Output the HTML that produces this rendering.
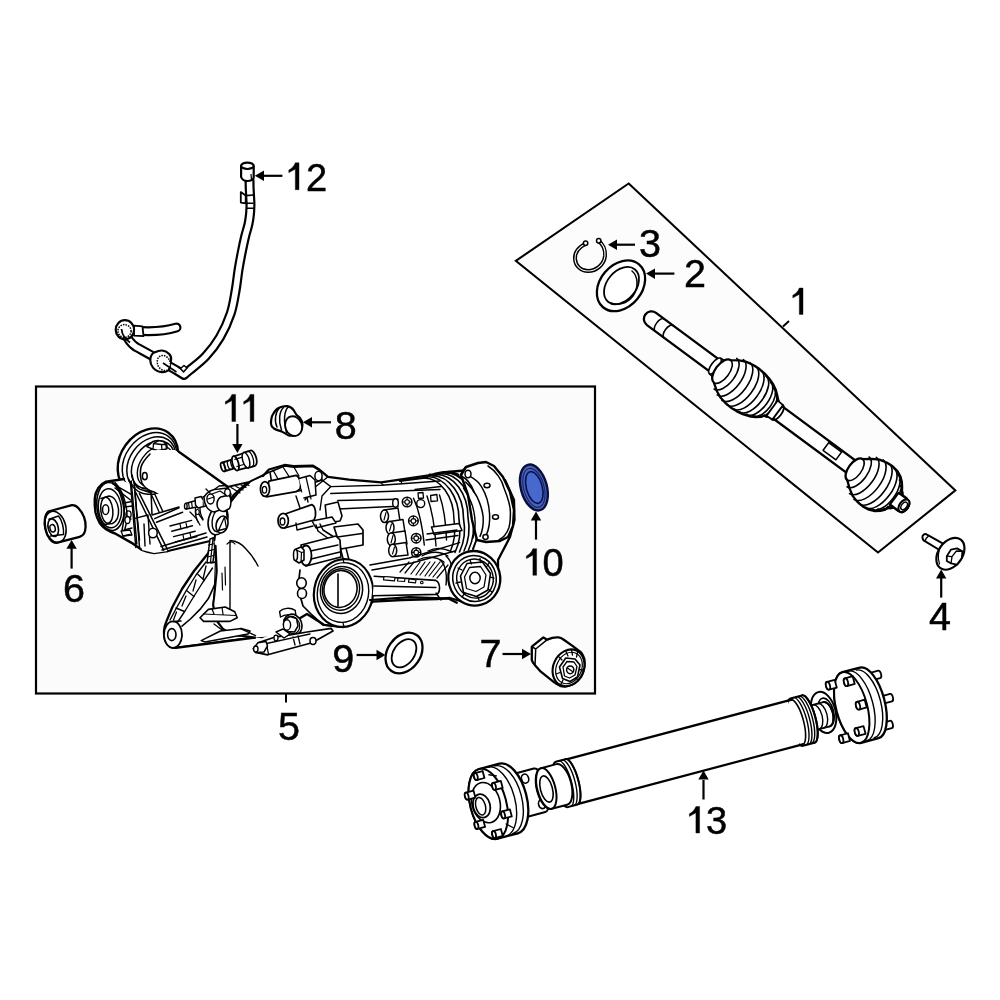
<!DOCTYPE html>
<html><head><meta charset="utf-8"><style>
html,body{margin:0;padding:0;background:#fff;width:1000px;height:1000px;overflow:hidden}
svg{display:block;will-change:transform}
text{font-family:"Liberation Sans",sans-serif}
</style></head><body>
<svg width="1000" height="1000" viewBox="0 0 1000 1000">
<rect x="36" y="386.5" width="559" height="307" fill="#fbfbfb" stroke="#000" stroke-width="2.2"/>
<path d="M628.7 183.5L955.4 490.4L878 552.5L515.8 260.9Z" fill="#fcfcfc" stroke="#000" stroke-width="2"/>
<path d="M286 694L286 702.5M783 326.5L789 321" stroke="#000" stroke-width="2"/>

<g fill="none" stroke-linecap="round" stroke-linejoin="round">
<path id="hp" d="M249.5 180C249.5 192 250.5 199 250.5 205C250.4 206.5 250.3 210.8 250 214C249.7 217.2 249.3 220.2 248.5 224C247.7 227.8 246.1 232.3 245 237C243.9 241.7 242.8 246.9 241.7 252.4C240.6 257.9 239.5 263.7 238.5 270C237.5 276.3 237.0 282.8 235.7 290C234.4 297.2 233.4 305.3 230.8 313.2C228.2 321.1 224.2 330.0 220 337.2C215.8 344.4 210.8 350.8 205.6 356.4C200.4 362.0 192.4 367.7 188.8 370.8C185.2 373.9 184.8 374.3 184 375L176 370L163 362.5C155 357 145 352 136 347C130 343 127 338 125 332" stroke="#000" stroke-width="10"/>
<path d="M249.5 180C249.5 192 250.5 199 250.5 205C250.4 206.5 250.3 210.8 250 214C249.7 217.2 249.3 220.2 248.5 224C247.7 227.8 246.1 232.3 245 237C243.9 241.7 242.8 246.9 241.7 252.4C240.6 257.9 239.5 263.7 238.5 270C237.5 276.3 237.0 282.8 235.7 290C234.4 297.2 233.4 305.3 230.8 313.2C228.2 321.1 224.2 330.0 220 337.2C215.8 344.4 210.8 350.8 205.6 356.4C200.4 362.0 192.4 367.7 188.8 370.8C185.2 373.9 184.8 374.3 184 375L176 370L163 362.5C155 357 145 352 136 347C130 343 127 338 125 332" stroke="#fff" stroke-width="5.6"/>
<path d="M134 330.5C150 332 165 331 176.5 327.5" stroke="#000" stroke-width="10"/>
<path d="M134 330.5C150 332 165 331 176.5 327.5" stroke="#fff" stroke-width="5.6"/>
</g>
<g stroke="#000" stroke-width="1.8" fill="#fff" stroke-linejoin="round">
<path d="M134 325.6L142.5 326.3L143.5 336.2L134 335.6Z"/>
<ellipse cx="124.9" cy="329.8" rx="9.2" ry="9.6" stroke-width="2.2"/>
<ellipse cx="124.5" cy="331" rx="6.6" ry="6.4" stroke-dasharray="1.5 1.1" stroke-width="1.5"/>
<path d="M121.5 329C122 335 125 339 130 342.5" fill="none" stroke-width="1.8"/>
<path d="M150.3 360.4C150.5 356 152 353 155 352.3C158 350.8 160 350.4 162 350.5C165 350.7 167.5 352 169.2 354.1C171 356 171.5 358 171 360.4L169.2 369.4C168 371 165 372.1 162 372.1C158 372 155 370 153 367.6C151 365 150.2 363 150.3 360.4Z" stroke-width="2.2"/>
<ellipse cx="163.8" cy="363" rx="6.3" ry="7.8" transform="rotate(-25 163.8 363)" stroke-dasharray="1.5 1.1" stroke-width="1.5"/>
<path d="M163 363L176.5 372" fill="none" stroke-width="1.6"/>
<path d="M180.5 368.5L184 365.5L187 368L183.5 372Z" stroke-width="1.5"/>
<path d="M241.1 165.8L241.1 177C242 179.5 245 181 247.4 181C250.5 181 253 179.8 253.7 177.5L253.7 165.8" stroke-width="2.2"/>
<ellipse cx="247.4" cy="165.8" rx="6.3" ry="3.2" stroke-width="2.2"/>
<path d="M251 174L251.5 180" fill="none" stroke-width="1.2"/>
<path d="M240.8 192.1L245.7 195.6L245.7 203.3L240.8 202.6Z" stroke-width="1.8"/>
<path d="M245.8 195.6L253.5 195M245.8 203.3L253.5 203.3M246.3 208.2L253.7 208.2" fill="none" stroke-width="1.6"/>
</g>

<g transform="translate(651.5 319) rotate(36.5)" stroke="#000" fill="#fff" stroke-linejoin="round" stroke-linecap="round">
<path d="M0 -7.6L312 -7.6L312 7.6L0 7.6A7.6 7.6 0 0 1 0 -7.6Z" stroke-width="2.3"/>
<path d="M10 -7.6A3.5 7.6 0 0 0 10 7.6M21 -7.6A3.5 7.6 0 0 0 21 7.6" fill="none" stroke-width="1.6"/>
<path d="M79 -9.5L88 -10.5L88 10.5L79 9.5Z" stroke-width="1.8"/>
<ellipse cx="79" cy="0" rx="3.8" ry="9.5" stroke-width="1.7"/>
<path d="M88 14 A7.0 14 0 0 1 88 -14 L95.3 -19 L101.8 -22 L109.1 -23.5 L116.2 -24 L123.1 -23.5 L129.9 -22.2 L136.5 -20 L142.0 -17 L146.4 -13.5 L149.8 -10.5 A5.2 10.5 0 0 1 148 10.5 L146.4 13.5 L142.0 17 L136.5 20 L129.9 22.2 L123.1 23.5 L116.2 24 L109.1 23.5 L101.8 22 L95.3 19Z" stroke-width="2.3"/>
<path d="M88 -14A7.0 14 0 0 1 88 14" fill="none" stroke-width="1.6"/>
<path d="M92 -19A9.5 19 0 0 1 92 19" fill="none" stroke-width="1.6"/>
<path d="M98 -22A11.0 22 0 0 1 98 22" fill="none" stroke-width="1.6"/>
<path d="M105 -23.5A11.8 23.5 0 0 1 105 23.5" fill="none" stroke-width="1.6"/>
<path d="M112 -24A12.0 24 0 0 1 112 24" fill="none" stroke-width="1.6"/>
<path d="M119 -23.5A11.8 23.5 0 0 1 119 23.5" fill="none" stroke-width="1.6"/>
<path d="M126 -22.2A11.1 22.2 0 0 1 126 22.2" fill="none" stroke-width="1.6"/>
<path d="M133 -20A10.0 20 0 0 1 133 20" fill="none" stroke-width="1.6"/>
<path d="M139 -17A8.5 17 0 0 1 139 17" fill="none" stroke-width="1.6"/>
<path d="M144 -13.5A6.8 13.5 0 0 1 144 13.5" fill="none" stroke-width="1.6"/>
<path d="M148 -10.5A5.2 10.5 0 0 1 148 10.5" fill="none" stroke-width="1.6"/>
<path d="M150 -9.5L157 -9L157 9L150 9.5Z" stroke-width="1.8"/>
<path d="M157 -9A4 9 0 0 1 157 9" fill="none" stroke-width="1.8"/>
<path d="M216 -6L232 -6L232 3.5L216 3.5Z" stroke-width="1.5" fill="none"/>
<path d="M253 13 A6.5 13 0 0 1 253 -13 L260.2 -18.5 L266.9 -22.5 L274.3 -24.5 L281.4 -25 L288.2 -24 L293.8 -21.5 L298.1 -18 L301.4 -14 L303.8 -10.5 A5.2 10.5 0 0 1 302 10.5 L301.4 14 L298.1 18 L293.8 21.5 L288.2 24 L281.4 25 L274.3 24.5 L266.9 22.5 L260.2 18.5Z" stroke-width="2.3"/>
<path d="M253 -13A6.5 13 0 0 1 253 13" fill="none" stroke-width="1.6"/>
<path d="M257 -18.5A9.2 18.5 0 0 1 257 18.5" fill="none" stroke-width="1.6"/>
<path d="M263 -22.5A11.2 22.5 0 0 1 263 22.5" fill="none" stroke-width="1.6"/>
<path d="M270 -24.5A12.2 24.5 0 0 1 270 24.5" fill="none" stroke-width="1.6"/>
<path d="M277 -25A12.5 25 0 0 1 277 25" fill="none" stroke-width="1.6"/>
<path d="M284 -24A12.0 24 0 0 1 284 24" fill="none" stroke-width="1.6"/>
<path d="M290 -21.5A10.8 21.5 0 0 1 290 21.5" fill="none" stroke-width="1.6"/>
<path d="M295 -18A9.0 18 0 0 1 295 18" fill="none" stroke-width="1.6"/>
<path d="M299 -14A7.0 14 0 0 1 299 14" fill="none" stroke-width="1.6"/>
<path d="M302 -10.5A5.2 10.5 0 0 1 302 10.5" fill="none" stroke-width="1.6"/>
<path d="M302 -7.2L314 -7.2A4.4 7.2 0 0 1 314 7.2L302 7.2Z" stroke-width="2.1"/>
<ellipse cx="314" cy="0" rx="4.4" ry="7.2" stroke-width="2.1"/>
<ellipse cx="314.3" cy="0" rx="2.6" ry="4.3" stroke-width="1.5"/>
</g>
<g stroke="#000" fill="#fff" stroke-linejoin="round" stroke-linecap="round">
<!-- ===== left flange ===== -->
<ellipse cx="147.9" cy="461.1" rx="27.4" ry="35" transform="rotate(35.8 147.9 461.1)" stroke-width="2.4"/>
<ellipse cx="149.6" cy="462.3" rx="24.6" ry="32" transform="rotate(35.8 149.6 462.3)" stroke-width="1.5" fill="none"/>
<ellipse cx="151.3" cy="463.5" rx="21.8" ry="29" transform="rotate(35.8 151.3 463.5)" stroke-width="1.5" fill="none"/>
<ellipse cx="153" cy="464.7" rx="19" ry="26" transform="rotate(35.8 153 464.7)" stroke-width="1.5" fill="none"/>
<ellipse cx="155.5" cy="466.5" rx="15.5" ry="22.5" transform="rotate(35.8 155.5 466.5)" stroke-width="1.4" fill="none"/>
<!-- hex nut + slot -->
<path d="M146.8 446.6L151.5 443L152.8 441.6L158 440.4L163.5 441.5L166 444.5L166.5 449L158 450.5L153 449.2Z" stroke-width="1.5"/>
<path d="M153 449.2L153.5 443.5L158 441.2M153.5 443.5L161.5 444.5L166 444.5M161.5 444.5L162 450" fill="none" stroke-width="1.3"/>
<path d="M166.6 443L167.3 448" fill="none" stroke-width="1.4"/>
<!-- cylinder -->
<path d="M175 450L228 487L236 493L222 510L205 520L184 510L154 492C149 490 144.5 487 142 483C140 479 139.8 475 140 471C140.5 465 143 459 147 455C150 452 153 450.5 157 450Z" stroke-width="0"/>
<path d="M178.5 451.5L228 487" fill="none" stroke-width="2.3"/>
<path d="M150 454C146 458 142.5 462 141 467C140 472 140.2 478 142 483C144 487 147 490 154 492L184 510" fill="none" stroke-width="1.6"/>
<path d="M132 475C133 480 134.5 484 136 485.5C138 488 140 489.5 141 490C145 492.5 148 494 152 495" fill="none" stroke-width="1.5"/>
<ellipse cx="144.8" cy="476.2" rx="2.4" ry="3.6" stroke-width="1.5"/>
<!-- ===== left mount bushing ===== -->
<path d="M120 479.6L106 481.7C102 483.5 100 485.5 98.3 488C96 491.5 95 495 94.8 498.5C94.5 503 94.8 508 95.5 512.5C96.5 516.5 98 520 99.7 523C101.5 525.5 103.5 527.5 106 529.3C109 531.3 112 532.5 115.1 533.5L131.2 542.6L142 550C145.5 551.5 149 552.5 154 553L168 551L200 540L200 520L170 500L140 490L130 484Z" stroke-width="0"/>
<path d="M124 479L106 481.7C102 483.5 100 485.5 98.3 488C96 491.5 95 495 94.8 498.5C94.5 503 94.8 508 95.5 512.5C96.5 516.5 98 520 99.7 523C101.5 525.5 103.5 527.5 106 529.3C109 531.3 112 532.5 115.1 533.5L131.2 542.6L142 550C145.5 551.5 149 552.5 154 553L168 551" fill="none" stroke-width="2.4"/>
<ellipse cx="110.5" cy="506.5" rx="13.6" ry="24.1" transform="rotate(-6 110.5 506.5)" stroke-width="1.6" fill="none"/>
<ellipse cx="109.9" cy="508.3" rx="11.5" ry="19.6" transform="rotate(-6 109.9 508.3)" stroke-width="1.5" fill="none"/>
<path d="M101 498.5L109 496C114 496.5 117.5 502 118.5 509C119 516 116.5 521.5 112.5 523.5L104 524.5" fill="none" stroke-width="1.5"/>
<ellipse cx="106.8" cy="510.2" rx="6" ry="13" transform="rotate(-6 106.8 510.2)" stroke-width="1.5" fill="none"/>
<ellipse cx="105.65" cy="509.7" rx="3.1" ry="4.9" stroke-width="1.5" fill="none"/>
<path d="M112.3 481.7C116 486 119 490 120.5 495C122.5 501 124 507 124.2 512.5C124.2 518 123.5 524 122.1 530" fill="none" stroke-width="1.5"/>
<path d="M115 482.5C119 487 122 492 123.6 497C125.5 503 127 509 127 515C127 521 126 526 124.5 531" fill="none" stroke-width="1.5"/>
<path d="M113 483.8L131.2 494.3M115 488L130.5 500" fill="none" stroke-width="1.5"/>
<path d="M131.2 481L136.8 544M134 482L139.5 540" fill="none" stroke-width="1.5"/>
<path d="M124 503L132 501.5M124.5 507L132.5 506M125 520L131 519" fill="none" stroke-width="1.3"/>
<ellipse cx="128.5" cy="514.5" rx="2.6" ry="3.6" stroke-width="1.3" fill="none"/>
<path d="M121 531L130 530L132 535L123 536Z" stroke-width="1.3"/>
</g>

<g stroke="#000" fill="#fff" stroke-linejoin="round" stroke-linecap="round">
<!-- ===== bracket below cylinder ===== -->
<path d="M137 505L150 494L160 494L180 505L212 522L212 540L168 551L154 553L142 550Z" stroke-width="0"/>
<path d="M168 551L210 541" fill="none" stroke-width="2.3"/>
<path d="M128.6 479C130 483 131.5 486 134 488C137 491 140 492.8 143 493.4C147 494.2 151 494.4 154.7 494.3" fill="none" stroke-width="1.5"/>
<path d="M130.4 481.7L135.8 547.4M134.5 487L139.5 547" fill="none" stroke-width="1.5"/>
<path d="M135.8 492.5L163.7 550.1M139.4 493.4L167.3 549.2" fill="none" stroke-width="1.5"/>
<path d="M151.1 493.5L152 515L179 507" fill="none" stroke-width="1.5"/>
<path d="M151.1 494L159.2 512.3M154.7 494L162.8 511.4" fill="none" stroke-width="1.4"/>
<path d="M154.7 518.6L179 507.8M156.5 522.2L182.6 512.3" fill="none" stroke-width="1.5"/>
<path d="M170 526L191.6 520.4M171.8 531.2L192.5 525.8M173.6 536.6L195.2 531.2M175.4 542L197 536.6" fill="none" stroke-width="1.4"/>
<path d="M180 524L181 529M186 523L187 528M183 535L184 540M190 533L191 538" fill="none" stroke-width="1.2"/>
<path d="M161 546.5L206 533M162 550L207 537" fill="none" stroke-width="1.5"/>
<path d="M134 518.6L148 515L150 544M144 524L145 546" fill="none" stroke-width="1.4"/>
<ellipse cx="152.9" cy="533" rx="4.3" ry="4.8" stroke-width="1.5"/>
<path d="M124 530L132 528M123 536L130 534.5" fill="none" stroke-width="1.3"/>
<ellipse cx="127.5" cy="520" rx="2.5" ry="3.5" stroke-width="1.3"/>
<path d="M190 512L196 518L200 525M198 513L203 520" fill="none" stroke-width="1.3"/>
<!-- sensor fitting -->
<path d="M185.5 503.5L196 500.5L197 507L186.5 509Z" stroke-width="1.5"/>
<ellipse cx="185.8" cy="506.2" rx="1.3" ry="2.8" stroke-width="1.4"/>
<path d="M188.5 502.5L189.3 508.5M191.5 501.5L192.3 507.5" fill="none" stroke-width="1.2"/>
<path d="M195 498L201 496.5L203.5 500L203.5 506.5L198 508L195.5 505Z" stroke-width="1.5"/>
<path d="M203 497L207 495.5C209 496 209.5 501 208 505L204 506.5" stroke-width="1.5"/>
<path d="M195.5 508.5C195 513 196 518 198 522M200 508C200 513 201 516 203 519" fill="none" stroke-width="1.3"/>
<ellipse cx="197.5" cy="512" rx="1.8" ry="2.5" stroke-width="1.2"/>
<!-- ===== lower arm ===== -->
<path d="M208.4 553L194 571L182 589L172.4 607L166.4 621.4C164.8 625 164 628 164 631C164 634.5 164.2 637.5 165.2 640.6C166.5 643.5 168 645.5 170 646.6C172 647.5 174 647.8 176 647.8L255 637.5L240 560L218 545Z" stroke-width="2.3"/>
<path d="M218 571L214.4 585.4L208.4 598.6L200 609.4L190.4 619L182 626.2" fill="none" stroke-width="1.6"/>
<path d="M206 562L196 575L186 591L177 607L170 620M212.5 568L203 582L193.5 597L185 611L177 623" fill="none" stroke-width="1.4"/>
<path d="M186.5 590.5L194 596.5M176 608L184.5 611.5M198 574.5L204 580" fill="none" stroke-width="1.4"/>
<path d="M206 566C205 571 204 575 203 579M196 580L193 591M186 596L182 606M176.5 612L173.5 620" fill="none" stroke-width="1.3"/>
<ellipse cx="173" cy="634.6" rx="9" ry="13.2" stroke-width="1.8"/>
<ellipse cx="171.8" cy="634.6" rx="4.2" ry="6" stroke-width="1.6"/>
<path d="M173 621.4L181 621M173.5 647.8L248 638" fill="none" stroke-width="1.5"/>
<!-- checker strip -->
<path d="M210 539L216 537L213 562L207 563Z" stroke-width="1.5"/>
<path d="M208.5 545L214.8 543.5M208 551L214 549.5M207.6 557L213.5 555.5M213 538L210.5 562" fill="none" stroke-width="1.2"/>
<path d="M211 563L216 562L218 571" fill="none" stroke-width="1.4"/>
<path d="M216 573L219 568L222 571L221 588" fill="none" stroke-width="1.3"/>
</g>

<g stroke="#000" fill="#fff" stroke-linejoin="round" stroke-linecap="round">
<!-- ===== housing body right (behind) ===== -->
<path d="M268.9 469.5L284.5 465L293.6 466.2L313 465.6L319.6 469.8L328 476.8L349 479.6L381.2 482.4L428.8 475.4L434.4 474L442 472.5L470 470L505 480L514 500L514.5 520L510 537L498 560L498 590L474 605L450 598L437 599L402 600L373 601.6L343 627L324 624.8L307 614L280 630L262 637L235 635L222.8 628.6L215.6 619L213.5 605L215 590L216 560L214.5 540L218 525L224 509.6L233.6 495.2L245.6 484.4L262 477Z" stroke-width="2.3"/>
<!-- second top contour + tube lines -->
<path d="M319.6 478.2L330.8 486.6L381.2 485.2L440 481" fill="none" stroke-width="1.4"/>
<path d="M330.8 493.6L440 489.4M337.8 500.6L398 499.2M337.8 509L398 506.2" fill="none" stroke-width="1.5"/>
<path d="M328 476.8L314 488L305 500M330.8 486.6L322 496L320 510" fill="none" stroke-width="1.4"/>
<path d="M381 482.5L383 485M400 480L402 483.5" fill="none" stroke-width="1.2"/>
<ellipse cx="395.5" cy="503" rx="2.8" ry="4.2" stroke-width="1.4"/>
<!-- cover face (white) -->
<path d="M262 477L249.4 482.5L239 491.6L228.6 504.6L220.8 517.6L215.6 530L214.5 540L216 560L215 590L213.5 605L215.6 619L222.8 628.6L235 635L255 637.5L275 636L290 628L300 612L305 590L305 560L300 530L292 505L282 488L272 478Z" stroke-width="0" fill="#fff"/>
<path d="M249.4 482.5L239 491.6L228.6 504.6L220.8 517.6L215.6 530L214.5 540" fill="none" stroke-width="2"/>
<path d="M215.6 545.8L216.8 571L214.4 595L213.2 604.6L215.6 619L222.8 628.6L232.4 634.5L255 637.5" fill="none" stroke-width="2"/>
<path d="M227.3 487L249.4 481.9L261.1 476L268.9 472.1" fill="none" stroke-width="1.8"/>
<path d="M231 487.5L240 493M236 486.5L243 490M241 485L246 487.5M246 484L249 485.5" fill="none" stroke-width="1.2"/>
<path d="M230 540.5L230 612M230 540.5C236 541 242 544 246 549C251 554 255 560 258 566" fill="none" stroke-width="1.4"/>
<path d="M227 544C230 541 233 541.5 235 544" fill="none" stroke-width="1.2"/>
<path d="M222 573L222.5 590M225 567L225.5 585" fill="none" stroke-width="1.2"/>
<!-- fins -->
<path d="M200 617.8L208.4 609.4L225.2 607L234.8 611.8L237.2 617.8L230 621.4L203.6 621.4Z" stroke-width="1.6"/>
<path d="M203.6 614L236 615.5M212 609L214 614M222 607.5L223 614" fill="none" stroke-width="1.2"/>
<path d="M201.2 640.6L220.4 631L242 628.6L250 631L248 634L205 642Z" stroke-width="1.5"/>
<path d="M240 628.4L255.6 635.6M214 624L222 630" fill="none" stroke-width="1.3"/>
<!-- gear ring -->
<ellipse cx="218" cy="520" rx="9.5" ry="15" transform="rotate(15 218 520)" stroke-width="1.6"/>
<ellipse cx="219.5" cy="519.5" rx="7" ry="12.5" transform="rotate(15 219.5 519.5)" stroke-width="1.4"/>
<ellipse cx="222" cy="524.5" rx="5.8" ry="8.6" transform="rotate(15 222 524.5)" stroke-width="1.6"/>
<path d="M224.5 517L218.5 530.5L226.5 528.5Z" fill="none" stroke-width="1.3"/>
<path d="M204 497C207 492 213 489 219 489L228 488L231 494L229 507L214 512C208 511 204 505 204 497Z" stroke-width="1.5"/>
<ellipse cx="210.5" cy="499" rx="3.6" ry="5" stroke-width="1.4"/>
<ellipse cx="223" cy="504" rx="6" ry="7.5" stroke-width="1.6"/>
<path d="M223 496.5L229 495C231.5 498 231.5 505 229.5 508.5L224 511.5" stroke-width="1.5"/>
<ellipse cx="227.5" cy="492.5" rx="2.8" ry="3.6" stroke-width="1.3"/>
<path d="M215 489L219 486L226 485.5M210 493L206 489" fill="none" stroke-width="1.3"/>
<path d="M212 494L220 491L226 495M208 499L214 497" fill="none" stroke-width="1.3"/>
<!-- ===== bosses ===== -->
<!-- boss plate top -->
<path d="M270 472L284.5 466L293.6 467.2L313 466.5L319.6 470.5L322 480L316 482L300 486L284 487L272 485Z" stroke-width="1.6"/>
<path d="M273 470L278 479M283 467L290 478M294 467.2L299 476M300 486L302 492" fill="none" stroke-width="1.3"/>
<ellipse cx="318.5" cy="476" rx="3.6" ry="4.8" stroke-width="1.5"/>
<!-- boss 1 -->
<path d="M268.9 481.2L296.2 475.35C300 477 301.5 484 300 489L296.2 491.6L266.3 496.8Z" stroke-width="1.7"/>
<ellipse cx="265" cy="489" rx="4.6" ry="7.4" stroke-width="1.7"/>
<ellipse cx="264.5" cy="489.8" rx="2.2" ry="3.4" stroke-width="1.3"/>
<path d="M296.2 491.6L311 488.5L304 485M303 478L308 502M296 496L301 511" fill="none" stroke-width="1.4"/>
<path d="M299 478.5L310 475.5L315 480L316 495L304 498" stroke-width="1.5"/>
<path d="M306 477L311 499" fill="none" stroke-width="1.2"/>
<!-- boss 2 -->
<path d="M285.8 513.7L311.8 504.6C315.5 506 317 515 314 520L284.5 528Z" stroke-width="1.7"/>
<ellipse cx="283.2" cy="520.8" rx="5.2" ry="7.4" stroke-width="1.7"/>
<ellipse cx="282.5" cy="521.5" rx="2.4" ry="3.5" stroke-width="1.3"/>
<path d="M296 523L297 530L313 526" fill="none" stroke-width="1.4"/>
<!-- bracket block + pipe -->
<path d="M325.2 505L338 502L342 516L340 521L327 523Z" stroke-width="1.6"/>
<path d="M312 521L332 517L336 523L316 528Z" stroke-width="1.5"/>
<path d="M316 525L318 531L340 547L344 562M320 524L323 530L345 544L349 560" fill="none" stroke-width="1.5"/>
<path d="M334 527L358 524L363 530L363 545L341 549Z" stroke-width="1.7"/>
<path d="M337.5 537L362 533.5" fill="none" stroke-width="1.3"/>
<!-- boss 3 (hex bolt) -->
<path d="M301 545L336 536L340 540L341 557L306 566Z" stroke-width="1.7"/>
<path d="M306 552L338 545M307 560L340 552" fill="none" stroke-width="1.3"/>
<ellipse cx="306" cy="555.5" rx="5.5" ry="10" stroke-width="1.8"/>
<path d="M295 549.5L301 547L304 550L304 560L299 563L294.5 560Z" stroke-width="1.6"/>
<ellipse cx="295.5" cy="555" rx="2" ry="5.5" stroke-width="1.5"/>
<path d="M296 549.8L301.5 552.5L303.5 552M301.5 552.5L301 562.5" fill="none" stroke-width="1.2"/>
<!-- ===== seal bore ===== -->
<path d="M300 570C298 580 299 595 303 606L312 615L323 625L342 627" stroke-width="1.7" fill="none"/>
<ellipse cx="301.5" cy="583" rx="4.8" ry="5.2" stroke-width="1.6"/>
<ellipse cx="302" cy="593.5" rx="4.5" ry="5" stroke-width="1.6"/>
<ellipse cx="343.5" cy="593" rx="29.5" ry="34" transform="rotate(10 343.5 593)" stroke-width="2.2"/>
<ellipse cx="343" cy="592.5" rx="25.6" ry="30" transform="rotate(10 343 592.5)" stroke-width="1.4"/>
<ellipse cx="341.5" cy="590" rx="21" ry="23.5" transform="rotate(12 341.5 590)" stroke-width="1.5"/>
<ellipse cx="341" cy="589.5" rx="18.5" ry="20.8" transform="rotate(12 341 589.5)" stroke-width="1.4"/>
<ellipse cx="340.5" cy="589" rx="16.5" ry="18.5" transform="rotate(12 340.5 589)" stroke-width="1.6"/>
<path d="M338 574L338 606" fill="none" stroke-width="1.6"/>
<path d="M343 559L344 563M343 623L344 627" fill="none" stroke-width="1.2"/>
<!-- ===== bottom bar + pinion bolt ===== -->
<path d="M279.6 611.6C283 608 290 607 295.2 610.4L296 616C292 614 285 614 280.5 617Z" stroke-width="1.4"/>
<ellipse cx="292.8" cy="624.8" rx="9" ry="10.8" transform="rotate(-20 292.8 624.8)" stroke-width="1.6"/>
<ellipse cx="292.5" cy="625" rx="7" ry="8.8" transform="rotate(-20 292.5 625)" stroke-width="1.3"/>
<path d="M284 620L290 616.5L296.5 618.5L298 626L294.5 632L288 631.5L285 627Z" stroke-width="1.5"/>
<ellipse cx="287" cy="625" rx="3.6" ry="5.2" stroke-width="1.4"/>
<path d="M258 642.8L276 636.8L285.6 635.6L307.2 632L331.2 628.4L333 631L312 642.8L267.6 654.8L255.6 652.4Z" stroke-width="1.7"/>
<path d="M266.4 642.8L268.5 654.5M262 644.5L310 634M293 637L295 645M298 636L300 644" fill="none" stroke-width="1.3"/>
<path d="M253.2 648.8L258 642.8L266 641.5L267.5 646L264 652L255.6 652.4Z" stroke-width="1.5"/>
<ellipse cx="255.8" cy="649" rx="2.2" ry="3" stroke-width="1.4"/>
<path d="M276 632L283 629L290 634L284 638Z" stroke-width="1.4"/>
<ellipse cx="276" cy="638" rx="2" ry="2.8" stroke-width="1.3"/>
<ellipse cx="313" cy="641" rx="3" ry="3.4" stroke-width="1.5"/>
</g>

<g stroke="#000" fill="#fff" stroke-linejoin="round" stroke-linecap="round">
<!-- ===== right housing details ===== -->
<path d="M400 481.1L427 477.5L429.7 474.4L433.3 475.7L443.2 472.6L450.4 471.7L458.5 474.8" fill="none" stroke-width="2"/>
<!-- fins (C-shaped) -->
<g stroke-width="1.5">
<path d="M384 510L398 508L400 521L386 522.5Z"/><ellipse cx="384.5" cy="516.3" rx="4" ry="6.3"/>
<path d="M389.5 521.5L403 519.5L405 532.5L391 534Z"/><ellipse cx="390" cy="527.7" rx="4" ry="6.3"/>
<path d="M391 533L405 531L407 544L393 545.5Z"/><ellipse cx="391.3" cy="539.2" rx="4" ry="6.3"/>
<path d="M392.5 544.5L406 542.5L408 555L394 556.5Z"/><ellipse cx="392.7" cy="550.5" rx="4" ry="6.3"/>
</g>
<path d="M386 512.5L384 520M391.5 524L389.5 531M393 535.5L391 543M394.5 547L392.5 554" fill="none" stroke-width="1.1"/>
<!-- bolt heads -->
<g stroke-width="1.5">
<circle cx="407.1" cy="502" r="4.8"/><circle cx="407.1" cy="502" r="2.3" stroke-width="1.1"/>
<circle cx="413.4" cy="520.9" r="4.8"/><circle cx="413.4" cy="520.9" r="2.3" stroke-width="1.1"/>
<circle cx="416.2" cy="538.2" r="4.8"/><circle cx="416.2" cy="538.2" r="2.3" stroke-width="1.1"/>
<circle cx="416.2" cy="552.4" r="4.6"/><circle cx="416.2" cy="552.4" r="2.3" stroke-width="1.1"/>
</g>
<path d="M402.5 502L404.8 502M409.4 502L411.7 502M407.1 497.4L407.1 499.7M407.1 504.3L407.1 506.6M408.8 520.9L411.1 520.9M415.7 520.9L418 520.9M413.4 516.3L413.4 518.6M413.4 523.2L413.4 525.5M411.6 538.2L413.9 538.2M418.5 538.2L420.8 538.2M416.2 533.6L416.2 535.9M416.2 540.5L416.2 542.8M411.8 552.4L413.9 552.4M418.5 552.4L420.6 552.4M416.2 548L416.2 550.1M416.2 554.7L416.2 556.8" fill="none" stroke-width="1.1"/>
<!-- neck arcs -->
<path d="M444 472.5A32 43 0 0 1 477 515.5A32 43 0 0 1 473 549" fill="none" stroke-width="2"/>
<path d="M440 473.5A32 43 0 0 1 472.5 516.5A32 43 0 0 1 468.5 550" fill="none" stroke-width="1.6"/>
<path d="M436 474.5A32 43 0 0 1 468 517.5A32 43 0 0 1 464 551" fill="none" stroke-width="1.6"/>
<path d="M432 475.5A32 43 0 0 1 463.5 518.5A32 43 0 0 1 459.5 552" fill="none" stroke-width="1.6"/>
<path d="M428 476.5A32 43 0 0 1 459 519.5A32 43 0 0 1 455 552.5" fill="none" stroke-width="1.6"/>
<path d="M424 478A30 42 0 0 1 454 520A30 42 0 0 1 450.5 551" fill="none" stroke-width="1.5"/>
<path d="M413.5 498.2C419 510 422.5 527 424.3 545M427 496C432 510 435 528 436 546M439.5 495C444 508 446 524 446.5 540" fill="none" stroke-width="1.4"/>
<path d="M415 489.5L441 486.5" fill="none" stroke-width="1.3"/>
<path d="M430.6 495.5L436.9 494.5L437.5 500.9L431 501.5Z" stroke-width="1.3"/>
<path d="M418 493L423 492.5L423.5 498L418.5 498.5Z" stroke-width="1.3"/>
<circle cx="420.7" cy="503.6" r="4" stroke-width="1.4"/>
<!-- hose on neck bottom -->
<path d="M431.5 527L459 523.5L462 530.5L434 534.5Z" stroke-width="1.5"/>
<path d="M427 534L457 530M426 540L458 535.5" fill="none" stroke-width="1.3"/>
<!-- lower rails -->
<path d="M370 565L409.2 558L459.6 542.6M372 570L412 563L455 551" fill="none" stroke-width="1.5"/>
<path d="M374.2 576.2L435.8 580.4C440 582 441 591 437 594.4L372.8 595.8" stroke-width="1.6"/>
<path d="M384 576.5L395 577.5L394.5 580.8L383.5 579.8Z" stroke-width="1.2"/>
<path d="M398 577.8L405 578.5L404.5 581.5L397.5 581Z" stroke-width="1.2"/>
<path d="M409 579L416 579.8L415.5 582.8L408.5 582.2Z" stroke-width="1.2"/>
<circle cx="421.8" cy="582.5" r="1.3" stroke-width="1.1"/>
<path d="M374 586L436 587.5" fill="none" stroke-width="1.3"/>
<path d="M370 600L409.2 597.2L448.4 598.6L456.8 602.8" fill="none" stroke-width="2.2"/>
<path d="M411 574L420 562M416 575L425 562M420 575L430 562M425 576L435 562M429 576L440 562M433 577L444 563M437 578L448 565M400 572L409 562M405 573L414 562" fill="none" stroke-width="1.2"/>
<path d="M418 560C426 556 436 556 444 562M422 556C430 551 440 551 448 556M428 551C436 547 444 548 452 552" fill="none" stroke-width="1.3"/>
<path d="M440 560C446 565 447 575 446 585M446 556C452 561 453.5 572 452.5 583M436 593L441 600" fill="none" stroke-width="1.4"/>
<!-- ===== output flange ===== -->
<path d="M461 475L466 467L478 463L486 462L494 466L503 477L510 492L514 510L513 526L508 537L500 541L486 542L477 540L472 520L468 495Z" stroke-width="2.4"/>
<path d="M466 467C463 470 461 473 461 476C466 478 471 484 474 492" fill="none" stroke-width="1.8"/>
<path d="M488 466C496 471 502 480 504 488C508 498 510.4 506 510.4 512C510.5 518 510 524 508.8 528C506.5 534 503 538 499.2 539.6" fill="none" stroke-width="1.5"/>
<path d="M468.8 475.6C475 479 479 482 481.6 486.8C486 494 489 504 489.6 514C490 522 489 529 486.4 534.8" fill="none" stroke-width="1.5"/>
<path d="M465.6 482C470 486 474 491 476.8 496.4C480 503 482.5 510 483.2 517.2C483.5 524 482.5 531 480 536.4" fill="none" stroke-width="1.5"/>
<path d="M463.5 488C467 493 470 499 472.5 506C474.5 513 475.5 521 475 528C474.8 532 474 535 473 538" fill="none" stroke-width="1.4"/>
<ellipse cx="468" cy="474" rx="3" ry="3.8" stroke-width="1.5"/>
<ellipse cx="487" cy="485.5" rx="3" ry="2.2" stroke-width="1.5"/>
<ellipse cx="495.5" cy="517" rx="3" ry="2.2" stroke-width="1.5"/>
<ellipse cx="485.5" cy="537" rx="2.6" ry="2.4" stroke-width="1.5"/>
<!-- ===== lower bushing ===== -->
<ellipse cx="474.3" cy="578.3" rx="25.9" ry="27.3" transform="rotate(-15 474.3 578.3)" stroke-width="2.3"/>
<ellipse cx="474.5" cy="578.5" rx="21.7" ry="23.1" transform="rotate(-15 474.5 578.5)" stroke-width="1.5"/>
<ellipse cx="475" cy="578.6" rx="18.2" ry="19.6" transform="rotate(-15 475 578.6)" stroke-width="1.4"/>
<path d="M467 563.5L482.5 562L490.5 573.5L488 590L476.5 596.5L463.5 592.5L460.5 576Z" stroke-width="1.6"/>
<path d="M469.5 567.5L480.5 566.5L486 575L484 587L476 591.5L466.5 588.5L464.5 577Z" stroke-width="1.3" fill="none"/>
<ellipse cx="475" cy="578" rx="5.2" ry="5.8" stroke-width="1.5"/>
<path d="M470 560L471.5 564M480 558.5L480.5 562.5M489 563L486.5 567M494 578L490.5 577M492 592L488 589M479 600L477.5 596M462 597L465 593M456 583L460.5 582M458 568L462 570" fill="none" stroke-width="1.3"/>
</g>

<g stroke="#000" fill="#fff" stroke-linejoin="round" stroke-linecap="round">
<!-- part 3 snap ring -->
<path d="M586 243.5C579 247 574.5 252 575 259C575.5 266 581 271 588 271C596 271 604 265 605 256C605.5 250 603 244 598.5 241" fill="none" stroke-width="4"/>
<path d="M586 243.5C579 247 574.5 252 575 259C575.5 266 581 271 588 271C596 271 604 265 605 256C605.5 250 603 244 598.5 241" fill="none" stroke="#fff" stroke-width="1.1"/>
<circle cx="585.6" cy="243.2" r="2.2" stroke-width="1.5"/>
<circle cx="598.7" cy="240.8" r="2.2" stroke-width="1.5"/>
<!-- part 2 washer -->
<ellipse cx="621" cy="285.8" rx="21" ry="28" transform="rotate(40 621 285.8)" stroke-width="2.3"/>
<ellipse cx="621.5" cy="285.6" rx="14.5" ry="21" transform="rotate(40 621.5 285.6)" stroke-width="1.8"/>
<path d="M632 271C638 276 639 287 633 296C627 304 617 306 611 303" fill="none" stroke-width="1.5"/>
<!-- part 4 bolt -->
<path d="M927 534.6L943.5 543.8L939.5 550L924 540.6C922 539 922 535.5 923.5 534.8C924.5 534 926 534 927 534.6Z" stroke-width="2"/>
<path d="M928.2 536.4C926.5 537.5 925.5 539 925.5 540.5" fill="none" stroke-width="1.3"/>
<ellipse cx="950.4" cy="553.8" rx="12" ry="17.5" transform="rotate(35 950.4 553.8)" stroke-width="2.2"/>
<path d="M941.5 545C938 550 937.5 558 939.5 564" fill="none" stroke-width="1.2"/>
<path d="M946.8 556.2L951 549.6L957 548.4L962.4 551.4L961.8 558L957 564.6L951 563.4L946.8 561Z" stroke-width="1.8"/>
<path d="M946.8 556.2L952 556.6L956.4 551L962.4 551.4M952 556.6L951 563.4" fill="none" stroke-width="1.3"/>
<!-- part 6 bushing -->
<path d="M48.25 511.5L71.9 505.2C75 505 77 506.5 78.5 508.2C81.5 511.5 83 514 84 517C85.5 521 85.7 525 85.6 527C85.4 530 85 532 84 533.5C83 535.5 81.5 536 79.6 536.8L63.1 541.2L56.5 542.85C53.5 543 51.5 541 49.9 539C47.5 536 46 532 45.5 529.1C44.5 525 44.5 521 44.95 518.65C45.5 515 46.5 513 48.25 511.5Z" stroke-width="2.3"/>
<ellipse cx="55.4" cy="526.9" rx="10.3" ry="15.9" transform="rotate(-14 55.4 526.9)" stroke-width="1.6" fill="none"/>
<path d="M49 519.3L58.5 516M50.5 536L63.5 534.5M58.5 516C62 520 64 528 63.5 534.5" fill="none" stroke-width="1.5"/>
<ellipse cx="53.2" cy="527.7" rx="5" ry="9" transform="rotate(-14 53.2 527.7)" stroke-width="1.6" fill="none"/>
<ellipse cx="52.6" cy="528.3" rx="2.6" ry="3.8" transform="rotate(-14 52.6 528.3)" stroke-width="1.5" fill="none"/>
<!-- part 8 plug -->
<path d="M271 423.75C271 419 271.5 416.5 273 414.25C275 410.5 277 408.5 279.6 407.6C282 406.5 285 406 287.2 406.2C290 406.5 292.5 408.5 293.85 410.45L296.7 415.2C298.5 416.5 300 417.5 300.5 419C302 421 302.6 422.5 302.4 423.75C302.5 427 302 429.5 300.5 431.35C298.5 434 296 435.5 293.85 435.6C291.5 435.8 289.5 435.7 288.15 435.15L281.5 431.35C278.5 430.5 276 429.8 273.9 428.5C272 427 271 425.5 271 423.75Z" stroke-width="2.2"/>
<ellipse cx="293.6" cy="426.1" rx="8.3" ry="10" transform="rotate(-20 293.6 426.1)" stroke-width="1.8"/>
<path d="M279.3 408C275.5 412 274 421 277 427M283.5 407.5C279.5 411 278 421 281.5 430M288 407.3C284.5 411 283 420 286.5 432.5" fill="none" stroke-width="1.5"/>
<!-- part 9 washer -->
<ellipse cx="404" cy="653" rx="16.5" ry="22" transform="rotate(35 404 653)" stroke-width="2.3"/>
<ellipse cx="404" cy="653.3" rx="10.5" ry="15.5" transform="rotate(35 404 653.3)" stroke-width="1.8"/>
<!-- part 10 seal -->
<ellipse cx="533.9" cy="487.5" rx="13" ry="23.5" transform="rotate(-15 533.9 487.5)" fill="#4b63b8" stroke="#0a0e3c" stroke-width="2.4"/>
<ellipse cx="533.9" cy="487.8" rx="10.2" ry="20" transform="rotate(-15 533.9 487.8)" fill="none" stroke="#1a2570" stroke-width="1.2"/>
<ellipse cx="534.3" cy="487.5" rx="8" ry="16.3" transform="rotate(-15 534.3 487.5)" fill="#4768cc" stroke="#0a1050" stroke-width="1.6"/>
<!-- part 11 fitting -->
<g transform="translate(223 467) rotate(-16.5)">
<path d="M0 -4.5L14 -4.5L14 4.5L0 4.5Z" stroke-width="1.8"/>
<ellipse cx="0" cy="0" rx="2" ry="4.5" stroke-width="1.8"/>
<path d="M3.5 -4.5A2 4.5 0 0 0 3.5 4.5M7 -4.5A2 4.5 0 0 0 7 4.5M10.5 -4.5A2 4.5 0 0 0 10.5 4.5" fill="none" stroke-width="1.3"/>
<path d="M13 -7L24 -7.5L24 7.5L13 7Z" stroke-width="1.8"/>
<ellipse cx="13" cy="0" rx="3" ry="7.5" stroke-width="1.8"/>
<path d="M13.5 -4L24 -4M13.5 3.5L24 3.5" fill="none" stroke-width="1.2"/>
<path d="M24 -8L31 -8A3.5 8 0 0 1 31 8L24 8Z" stroke-width="1.8"/>
<ellipse cx="24" cy="0" rx="3.3" ry="8" stroke-width="1.5"/>
<path d="M28 -8A3.3 8 0 0 1 28 8" fill="none" stroke-width="1.3"/>
</g>
<!-- part 7 bushing -->
<path d="M531.8 646.7L543.4 637.4L547.2 639.7L552.3 637.8C554.5 637.3 556.5 637.2 558.7 637.4C560.5 637.8 562.3 638.6 563.8 639.7L572.8 646.1L581.1 652.5C582.5 654.5 583.7 656.5 584.3 658.9C584.8 662 584.8 665 584.3 667.8C583.7 671 582.6 674 581.1 676.8C579 679.5 576.8 681.6 574.1 683.2C571.5 684.8 569 685.8 566.4 686.4C564.2 686.6 562 686.4 560 685.8C557.6 684.6 555.5 683.4 553.6 681.9L540.8 671.7L535 665.3C533.5 663.8 532.4 662 531.8 660.2Z" stroke-width="2.3"/>
<path d="M535.7 649L547.2 639.7M535.7 649L531.8 646.7M535.7 649L535 665.3" fill="none" stroke-width="1.5"/>
<ellipse cx="568.5" cy="667.8" rx="15.2" ry="19" transform="rotate(25 568.5 667.8)" stroke-width="2.1"/>
<ellipse cx="569" cy="668" rx="12.6" ry="16.3" transform="rotate(25 569 668)" stroke-width="1.2" fill="none"/>
<path d="M559.5 667L565.8 658L575 659L580 665L577.5 677L570 681.5L562.5 678.5Z" stroke-width="1.6"/>
<path d="M563 667L567 661.5L574 662L577 666.5L575 675L569.5 678L564.5 676Z" stroke-width="1.3" fill="none"/>
<ellipse cx="570.2" cy="669.8" rx="3.6" ry="3.9" stroke-width="1.5"/>
<path d="M567.5 668L572.5 671.5" fill="none" stroke-width="1.2"/>
<path d="M566 651.5L568 656M571.5 650L572.5 655M577.5 652.5L576.5 657M559 657L562 660M556 674L560 672.5M561 684L563 680M578 681L576 677.5M583 670L579.5 669.5" fill="none" stroke-width="1.3"/>
</g>

<g transform="translate(700 747.75) rotate(-14.85)" stroke="#000" fill="#fff" stroke-linejoin="round" stroke-linecap="round">
<path d="M182 -28.8L192 -28.8A1.90 3.8 0 0 1 192 -21.2L182 -21.2Z" stroke-width="1.8" fill="#fff"/>
<path d="M187.5 -3.3L197.5 -3.3A1.90 3.8 0 0 1 197.5 4.3L187.5 4.3Z" stroke-width="1.8" fill="#fff"/>
<path d="M180.5 22.599999999999998L190.5 22.599999999999998A1.90 3.8 0 0 1 190.5 30.2L180.5 30.2Z" stroke-width="1.8" fill="#fff"/>
<path d="M157 -36.5L175 -36.5A15.5 36.5 0 0 1 175 36.5L157 36.5A15.5 36.5 0 0 1 157 -36.5Z" stroke-width="2.3"/>
<path d="M171 -35.0A15.5 35.0 0 0 1 171 35.0" fill="none" stroke-width="1.4"/>
<path d="M163 -36.0A15.5 36.0 0 0 1 163 36.0" fill="none" stroke-width="1.4"/>
<ellipse cx="157" cy="0" rx="15.5" ry="36.5" stroke-width="2"/>
<path d="M139.6 -31.1L147.6 -31.1L147.6 -23.1L139.6 -23.1A2.00 4.0 0 0 1 139.6 -31.1Z" stroke-width="1.8" fill="#fff"/><ellipse cx="139.6" cy="-27.1" rx="2.00" ry="4.0" stroke-width="1.8" fill="#fff"/>
<path d="M157.9 -30.0L165.9 -30.0L165.9 -22.0L157.9 -22.0A2.00 4.0 0 0 1 157.9 -30.0Z" stroke-width="1.8" fill="#fff"/><ellipse cx="157.9" cy="-26" rx="2.00" ry="4.0" stroke-width="1.8" fill="#fff"/>
<path d="M163.5 -4.2L171.5 -4.2L171.5 3.8L163.5 3.8A2.00 4.0 0 0 1 163.5 -4.2Z" stroke-width="1.8" fill="#fff"/><ellipse cx="163.5" cy="-0.2" rx="2.00" ry="4.0" stroke-width="1.8" fill="#fff"/>
<path d="M155.6 21.0L163.6 21.0L163.6 29.0L155.6 29.0A2.00 4.0 0 0 1 155.6 21.0Z" stroke-width="1.8" fill="#fff"/><ellipse cx="155.6" cy="25" rx="2.00" ry="4.0" stroke-width="1.8" fill="#fff"/>
<path d="M138.7 23.9L146.7 23.9L146.7 31.9L138.7 31.9A2.00 4.0 0 0 1 138.7 23.9Z" stroke-width="1.8" fill="#fff"/><ellipse cx="138.7" cy="27.9" rx="2.00" ry="4.0" stroke-width="1.8" fill="#fff"/>
<ellipse cx="128.5" cy="-2.5" rx="12" ry="21" stroke-width="2.0" fill="#fff"/>
<ellipse cx="131" cy="-2" rx="7.5" ry="14.5" stroke-width="1.6" fill="#fff"/>
<path d="M114 -12.5L131 -12.5A6.25 12.5 0 0 1 131 12.5L114 12.5A6.25 12.5 0 0 1 114 -12.5Z" stroke-width="1.8" fill="#fff"/>
<path d="M131 -12.5A6.25 12.5 0 0 1 131 12.5" fill="none" stroke-width="1.8"/>
<path d="M120 -12.5A6.25 12.5 0 0 1 120 12.5" fill="none" stroke-width="1.4"/>
<path d="M125 -12.5A6.25 12.5 0 0 1 125 12.5" fill="none" stroke-width="1.4"/>
<path d="M100 -24.5L112 -24.5A7.35 24.5 0 0 1 112 24.5L100 24.5A7.35 24.5 0 0 1 100 -24.5Z" stroke-width="2.0" fill="#fff"/>
<path d="M112 -24.5A7.35 24.5 0 0 1 112 24.5" fill="none" stroke-width="2.0"/>
<path d="M103 -24.5A7.35 24.5 0 0 1 103 24.5" fill="none" stroke-width="1.4"/>
<path d="M106 -24.5A7.35 24.5 0 0 1 106 24.5" fill="none" stroke-width="1.4"/>
<path d="M109 -24.2A7.26 24.2 0 0 1 109 24.2" fill="none" stroke-width="1.4"/>
<rect x="-132" y="-23" width="229" height="46" stroke="none" fill="#fff"/>
<path d="M-132 -23L101 -23M-132 23L101 23" stroke-width="2.3" fill="none"/>
<path d="M100 -23.2A6.96 23.2 0 0 1 100 23.2" fill="none" stroke-width="1.6"/>
<path d="M-143 -23.5L-133 -23.5A7.05 23.5 0 0 1 -133 23.5L-143 23.5A7.05 23.5 0 0 1 -143 -23.5Z" stroke-width="2.0" fill="#fff"/>
<path d="M-133 -23.5A7.05 23.5 0 0 1 -133 23.5" fill="none" stroke-width="1.6"/>
<path d="M-136.5 -23.5A7.05 23.5 0 0 1 -136.5 23.5" fill="none" stroke-width="1.4"/>
<path d="M-140 -23.5A7.05 23.5 0 0 1 -140 23.5" fill="none" stroke-width="1.4"/>
<path d="M-190 -22.5L-166 -22.5A7.87 22.5 0 0 1 -166 22.5L-190 22.5A7.87 22.5 0 0 1 -190 -22.5Z" stroke-width="2.0" fill="#fff"/>
<ellipse cx="-177" cy="-15" rx="3.6" ry="4.6" stroke-width="1.6" fill="#fff"/>
<ellipse cx="-167" cy="14" rx="3.6" ry="4.6" stroke-width="1.6" fill="#fff"/>
<path d="M-159 -21L-143 -21A9.45 21 0 0 1 -143 21L-159 21A9.45 21 0 0 1 -159 -21Z" stroke-width="2.0" fill="#fff"/>
<ellipse cx="-159" cy="0" rx="9" ry="21" stroke-width="2.0" fill="#fff"/>
<ellipse cx="-159" cy="0.5" rx="6" ry="13.5" stroke-width="1.6" fill="#fff"/>
<path d="M-219 -36L-198 -36A18 36 0 0 1 -198 36L-219 36A18 36 0 0 1 -219 -36Z" stroke-width="2.3"/>
<path d="M-203 -35A18 35 0 0 1 -203 35" fill="none" stroke-width="1.4"/>
<path d="M-210 -35.5A18 35.5 0 0 1 -210 35.5" fill="none" stroke-width="1.4"/>
<ellipse cx="-219" cy="0" rx="18" ry="36" stroke-width="2"/>
<path d="M-207 24L-201 29.5M-211 -28L-204 -25" fill="none" stroke-width="1.3"/>
<ellipse cx="-221" cy="-1.8" rx="14" ry="20.5" stroke-width="1.6" fill="#fff"/>
<ellipse cx="-226" cy="0.2" rx="8.5" ry="12" stroke-width="1.8" fill="#fff"/>
<ellipse cx="-227" cy="0.3" rx="4.8" ry="9" stroke-width="1.5" fill="#fff"/>
<path d="M-224.1 -33.2L-216.1 -33.2L-216.1 -26.0L-224.1 -26.0A1.80 3.6 0 0 1 -224.1 -33.2Z" stroke-width="1.8" fill="#fff"/><ellipse cx="-224.1" cy="-29.6" rx="1.80" ry="3.6" stroke-width="1.8" fill="#fff"/>
<path d="M-209 -19.0L-201 -19.0L-201 -11.8L-209 -11.8A1.80 3.6 0 0 1 -209 -19.0Z" stroke-width="1.8" fill="#fff"/><ellipse cx="-209" cy="-15.4" rx="1.80" ry="3.6" stroke-width="1.8" fill="#fff"/>
<path d="M-237.9 -16.6L-229.9 -16.6L-229.9 -9.4L-237.9 -9.4A1.80 3.6 0 0 1 -237.9 -16.6Z" stroke-width="1.8" fill="#fff"/><ellipse cx="-237.9" cy="-13" rx="1.80" ry="3.6" stroke-width="1.8" fill="#fff"/>
<path d="M-207.5 10.9L-199.5 10.9L-199.5 18.1L-207.5 18.1A1.80 3.6 0 0 1 -207.5 10.9Z" stroke-width="1.8" fill="#fff"/><ellipse cx="-207.5" cy="14.5" rx="1.80" ry="3.6" stroke-width="1.8" fill="#fff"/>
<path d="M-236 14.200000000000001L-228 14.200000000000001L-228 21.400000000000002L-236 21.400000000000002A1.80 3.6 0 0 1 -236 14.200000000000001Z" stroke-width="1.8" fill="#fff"/><ellipse cx="-236" cy="17.8" rx="1.80" ry="3.6" stroke-width="1.8" fill="#fff"/>
<path d="M-221.3 27.5L-213.3 27.5L-213.3 34.7L-221.3 34.7A1.80 3.6 0 0 1 -221.3 27.5Z" stroke-width="1.8" fill="#fff"/><ellipse cx="-221.3" cy="31.1" rx="1.80" ry="3.6" stroke-width="1.8" fill="#fff"/>
</g>
<g stroke="#000" stroke-width="2.2" fill="none">
<path d="M282.4 175.8L263 175.8"/>
<path d="M635 244.7L616 244.7"/>
<path d="M674.4 273.6L655 273.6"/>
<path d="M941.2 597.6L941.2 578"/>
<path d="M71.6 568.6L71.6 548"/>
<path d="M502.5 654L522 654"/>
<path d="M331 422.3L311 422.3"/>
<path d="M356.6 655L377 655"/>
<path d="M237.4 424L237.4 444.5"/>
<path d="M536 539.6L536 520"/>
<path d="M703.5 799.5L703.5 780"/>
</g>
<g fill="#000">
<path d="M254.8 175.8L264 170.5L264 181z"/>
<path d="M608 244.7L617 239.5L617 250z"/>
<path d="M646 273.6L655 268.5L655 279z"/>
<path d="M941.2 569.6L936 578.6L946.4 578.6z"/>
<path d="M71.6 540L66.4 548.8L76.8 548.8z"/>
<path d="M531 654L522 648.8L522 659.2z"/>
<path d="M302.9 422.3L312 417L312 427.5z"/>
<path d="M385.4 655L376.5 649.8L376.5 660.2z"/>
<path d="M237.4 452.9L232.2 444L242.6 444z"/>
<path d="M536 511.6L530.8 520.4L541.2 520.4z"/>
<path d="M703.5 770.5L698.3 779.5L708.7 779.5z"/>
</g>
<g style="font-family:'Liberation Sans',sans-serif;font-size:39.5px" fill="#000" stroke="#000" stroke-width="0.5">
<text x="638.9" y="257.2">3</text>
<text x="683.9" y="287.2">2</text>
<text x="929.1" y="630.4">4</text>
<text x="62.9" y="601.7">6</text>
<text x="277.9" y="740.0">5</text>
<text x="479.6" y="667.4">7</text>
<text x="334.8" y="438.8">8</text>
<text x="332.3" y="672.2">9</text>
</g>
<g style="font-family:'Liberation Sans',sans-serif;font-size:38px" fill="#000" stroke="#000" stroke-width="0.5">
<text x="306" y="190.7">2</text>
<text x="542.5" y="576.3">0</text>
<text x="706" y="834">3</text>
</g>
<g stroke="#000" stroke-width="0.4">
<path d="M299 162.8L299 189.7L295.3 189.7L295.3 169.0C293.5 170.3 291.0 171.4 288.8 172.7L288.8 170.0C291.5 168.6 294.0 166.3 295.3 162.8Z" fill="#000"/>
<path d="M536.6 548.7L536.6 575.3L532.9 575.3L532.9 554.9C531.1 556.2 528.6 557.3 526.4 558.6L526.4 555.9C529.1 554.5 531.6 552.2 532.9 548.7Z" fill="#000"/>
<path d="M699.6 806.5L699.6 833L695.9 833L695.9 812.7C694.1 814.0 691.6 815.1 689.4 816.4L689.4 813.7C692.1 812.3 694.6 810.0 695.9 806.5Z" fill="#000"/>
<path d="M803 288L803 314.4L799.3 314.4L799.3 294.2C797.5 295.5 795.0 296.6 792.8 297.9L792.8 295.2C795.5 293.8 798.0 291.5 799.3 288Z" fill="#000"/>
<path d="M235.6 394.4L235.6 421.5L231.9 421.5L231.9 400.6C230.1 401.9 227.6 403.0 225.4 404.3L225.4 401.6C228.1 400.2 230.6 397.9 231.9 394.4Z" fill="#000"/>
<path d="M253.9 394.4L253.9 421.5L250.2 421.5L250.2 400.6C248.4 401.9 245.9 403.0 243.7 404.3L243.7 401.6C246.4 400.2 248.9 397.9 250.2 394.4Z" fill="#000"/>
</g>

</svg>
</body></html>
